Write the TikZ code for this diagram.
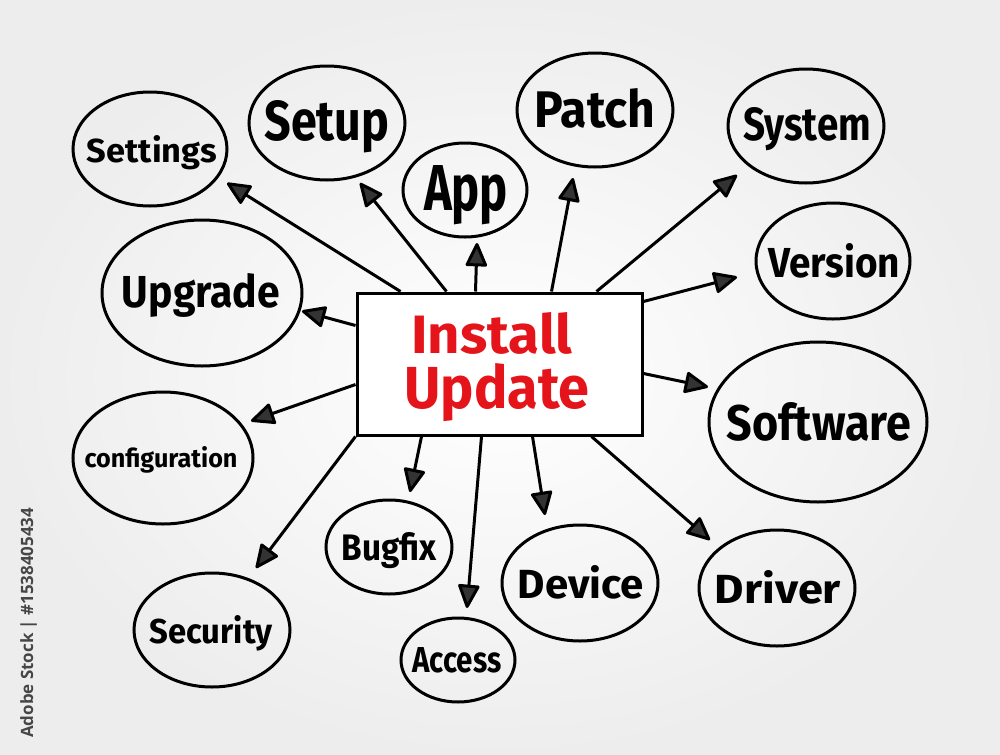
\documentclass[tikz,border=0pt]{standalone}
\usepackage{fontspec}
\setmainfont{Fira Sans}
\newfontfamily\wmfont{Open Sans}
\usetikzlibrary{arrows.meta,shapes.geometric,calc}
\newlength\px
\setlength\px{0.25mm}
\definecolor{redtxt}{RGB}{228,20,26}
\definecolor{wmgray}{RGB}{70,70,70}
\newcommand\fitlbl[3]{\resizebox{#1\px}{#2\px}{\bfseries #3}}
\begin{document}
\begin{tikzpicture}[x=0.25mm,y=-0.25mm,
  bubble/.style={ellipse,draw=black,line width=0.75mm,inner sep=0pt},
  lbl/.style={anchor=base,inner sep=0pt,text=black},
  redlbl/.style={anchor=base,inner sep=0pt,text=redtxt},
  arr/.style={line width=0.75mm,line join=round,
    -{Triangle[length=6.4mm,width=5.6mm,line join=round,fill=black!80]}},
]
\useasboundingbox (0,0) rectangle (1000,755);
\shade[inner color=white,outer color=black!7] (0,0) rectangle (1000,755);

% central box
\node[draw=black,line width=0.75mm,fill=white,minimum width=285\px,minimum height=142\px,inner sep=0pt] (main) at (499.5,364) {};
\node[redlbl] (instT) at (492,353) {\fitlbl{161}{41}{Install}};
\node[redlbl] (updT) at (497,408) {\fitlbl{185}{45}{Update}};

% bubbles
\node[bubble,minimum width=154\px,minimum height=114\px] (settings) at (150,149) {};
\node[bubble,minimum width=156\px,minimum height=114\px] (setup) at (327,123) {};
\node[bubble,minimum width=124\px,minimum height=94\px] (app) at (465,190) {};
\node[bubble,minimum width=156\px,minimum height=114\px] (patch) at (595,110) {};
\node[bubble,minimum width=156\px,minimum height=114\px] (system) at (806,126) {};
\node[bubble,minimum width=154\px,minimum height=116\px] (version) at (833,261) {};
\node[bubble,minimum width=200\px,minimum height=146\px] (upgrade) at (202,293) {};
\node[bubble,minimum width=218\px,minimum height=160\px] (software) at (818,422) {};
\node[bubble,minimum width=180\px,minimum height=132\px] (config) at (163,458) {};
\node[bubble,minimum width=126\px,minimum height=94\px] (bugfix) at (389,547) {};
\node[bubble,minimum width=156\px,minimum height=116\px] (device) at (580,583) {};
\node[bubble,minimum width=156\px,minimum height=116\px] (driver) at (777,588) {};
\node[bubble,minimum width=156\px,minimum height=114\px] (security) at (212,630) {};
\node[bubble,minimum width=114\px,minimum height=84\px] (access) at (458,660) {};

% labels
\node[lbl] (settingsT) at (152,162) {\fitlbl{130}{27}{Settings}};
\node[lbl] (setupT) at (327,140) {\fitlbl{125}{40}{Setup}};
\node[lbl] (appT) at (466,210) {\fitlbl{84}{45}{App}};
\node[lbl] (patchT) at (595,127) {\fitlbl{121}{39}{Patch}};
\node[lbl] (systemT) at (807,140) {\fitlbl{128}{33}{System}};
\node[lbl] (versionT) at (834,277) {\fitlbl{132}{34}{Version}};
\node[lbl] (upgradeT) at (201,307) {\fitlbl{158}{34}{Upgrade}};
\node[lbl] (softwareT) at (819,440) {\fitlbl{184}{38}{Software}};
\node[lbl] (configT) at (161,467) {\fitlbl{153}{21}{configuration}};
\node[lbl] (bugfixT) at (389,560) {\fitlbl{95}{28}{Bugfix}};
\node[lbl] (deviceT) at (581,598) {\fitlbl{126}{33}{Device}};
\node[lbl] (driverT) at (778,603) {\fitlbl{126}{33}{Driver}};
\node[lbl] (securityT) at (211,643) {\fitlbl{123}{28}{Security}};
\node[lbl] (accessT) at (457,672) {\fitlbl{89}{25}{Access}};

% arrow tips
\coordinate (tSettings) at (227,183);
\coordinate (tSetup) at (360,183);
\coordinate (tApp) at (477,243);
\coordinate (tPatch) at (573,178);
\coordinate (tSystem) at (737,175);
\coordinate (tVersion) at (737,277);
\coordinate (tUpgrade) at (302,311);
\coordinate (tSoftware) at (708,387);
\coordinate (tConfig) at (251,421);
\coordinate (tSecurity) at (256,568);
\coordinate (tBugfix) at (410,492);
\coordinate (tAccess) at (467,608);
\coordinate (tDevice) at (545,515);
\coordinate (tDriver) at (710,540);

% connectors
\draw[arr] ($(main.north west)+(45,0)$) -- (tSettings);
\draw[arr] ($(main.north west)+(91,0)$) -- (tSetup);
\draw[arr] ($(main.north west)+(120,0)$) -- (tApp);
\draw[arr] ($(main.north west)+(196,0)$) -- (tPatch);
\draw[arr] ($(main.north west)+(241,0)$) -- (tSystem);
\draw[arr] ($(main.north east)+(0,10)$) -- (tVersion);
\draw[arr] ($(main.north east)+(0,82)$) -- (tSoftware);
\draw[arr] ($(main.north west)+(0,34)$) -- (tUpgrade);
\draw[arr] ($(main.north west)+(0,93)$) -- (tConfig);
\draw[arr] (main.south west) -- (tSecurity);
\draw[arr] ($(main.south west)+(66,0)$) -- (tBugfix);
\draw[arr] ($(main.south west)+(126,0)$) -- (tAccess);
\draw[arr] ($(main.south west)+(177,0)$) -- (tDevice);
\draw[arr] ($(main.south west)+(236,0)$) -- (tDriver);

% side credit
\node[rotate=90,anchor=base west,inner sep=0pt,text=wmgray] (credit) at (33,738) {\resizebox{230\px}{!}{\wmfont\bfseries Adobe Stock | \#1538405434}};
\end{tikzpicture}
\end{document}
